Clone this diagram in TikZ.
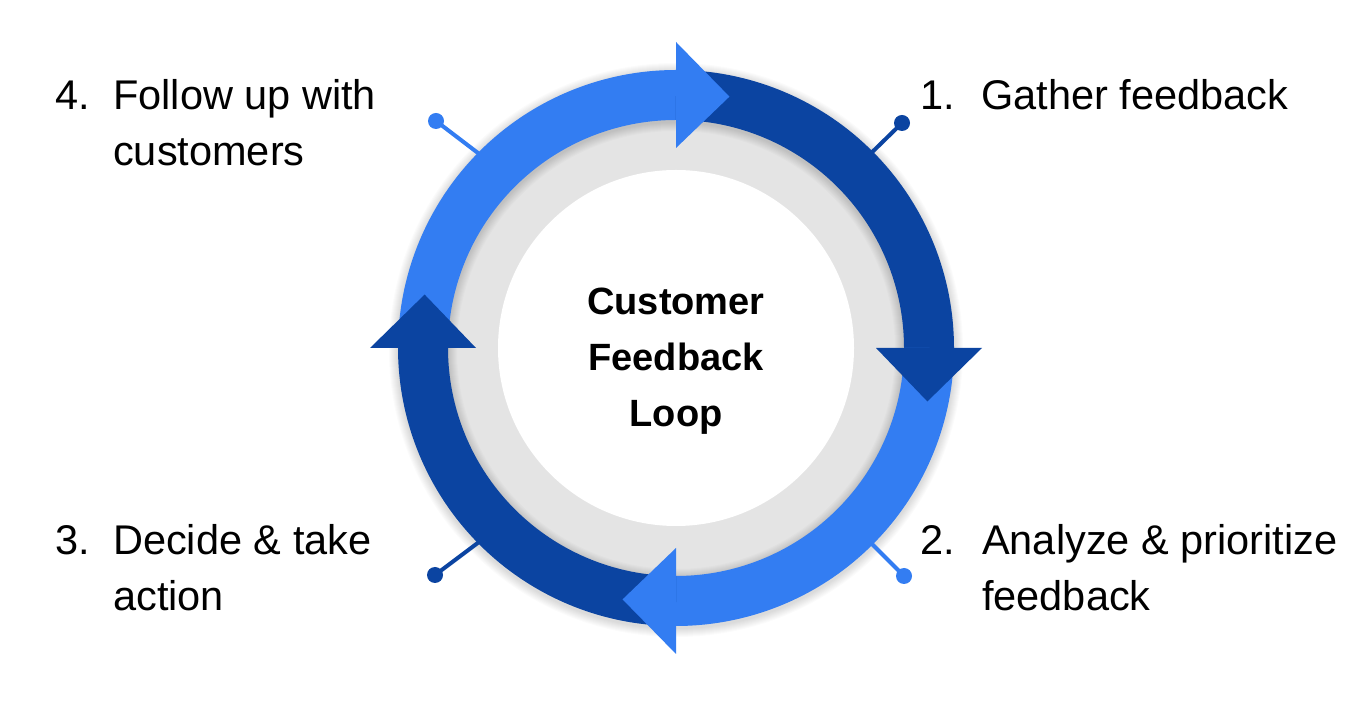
\documentclass[tikz,border=0pt]{standalone}
\usepackage{fontspec}
\setmainfont{Liberation Sans}
\usetikzlibrary{calc}
\definecolor{lightblue}{HTML}{337DF2}
\definecolor{darkblue}{HTML}{0B44A1}
\definecolor{ringgray}{HTML}{E4E4E4}
\begin{document}
\begin{tikzpicture}[x=1pt,y=1pt,
  seg/.style={line width=50pt},
  dot/.style={circle, inner sep=0pt, minimum size=16pt},
  lead/.style={line width=4pt},
  lbl/.style={anchor=base west, inner sep=0pt, font=\fontsize{41.5}{56}\selectfont},
  ctr/.style={anchor=base, inner sep=0pt, font=\fontsize{38}{56}\selectfont\bfseries}]
\useasboundingbox (0,0) rectangle (1370,701);
\fill[white] (0,0) rectangle (1370,701);
\coordinate (C) at (676,353);
% gray ring and white centre
\fill[ringgray] (C) circle[radius=240];
\fill[white] (C) circle[radius=178];
% soft shadow of the ring
\foreach \k in {1,...,9}
  \draw[black, opacity=0.014, line width={(50+2*\k)*1pt}] ($(C)+(0,-2)$) circle[radius=253];
% connectors with dots
\coordinate (a1) at ($(C)+(45:262)$);
\coordinate (a2) at ($(C)+(-45:262)$);
\coordinate (a3) at ($(C)+(-135:262)$);
\coordinate (a4) at ($(C)+(135:262)$);
\node[dot, fill=darkblue] (d1) at (902,578) {};
\node[dot, fill=lightblue] (d2) at (904,125) {};
\node[dot, fill=darkblue] (d3) at (435,126) {};
\node[dot, fill=lightblue] (d4) at (436,580) {};
\draw[lead, darkblue] (a1) -- (d1.center);
\draw[lead, lightblue] (a2) -- (d2.center);
\draw[lead, darkblue] (a3) -- (d3.center);
\draw[lead, lightblue] (a4) -- (d4.center);
% ring bodies (each runs on a little under its own arrow head)
\draw[seg, lightblue] ($(C)+(180:253)$) arc[start angle=180, end angle=88, radius=253];
\draw[seg, darkblue] ($(C)+(90:253)$) arc[start angle=90, end angle=-2, radius=253];
\draw[seg, lightblue] ($(C)+(0:253)$) arc[start angle=0, end angle=-92, radius=253];
\draw[seg, darkblue] ($(C)+(-90:253)$) arc[start angle=-90, end angle=-182, radius=253];
% arrow heads
\fill[lightblue] ($(C)+(90:200)$) -- ($(C)+(90:306)$) -- ($(C)+(78:257)$) -- cycle;
\fill[darkblue] ($(C)+(0:200)$) -- ($(C)+(0:306)$) -- ($(C)+(-12:257)$) -- cycle;
\fill[lightblue] ($(C)+(-90:200)$) -- ($(C)+(-90:306)$) -- ($(C)+(-102:257)$) -- cycle;
\fill[darkblue] ($(C)+(180:200)$) -- ($(C)+(180:306)$) -- ($(C)+(168:257)$) -- cycle;
% centre title
\node[ctr] (t1) at (676,386) {Customer};
\node[ctr] (t2) at (676,330) {Feedback};
\node[ctr] (t3) at (676,274) {Loop};
% labels
\node[lbl] (n1) at (920,591) {1.};
\node[lbl] (l1) at (981,591) {Gather feedback};
\node[lbl] (n2) at (920,146) {2.};
\node[lbl] (l2a) at (982,146) {Analyze \& prioritize};
\node[lbl] (l2b) at (982,90) {feedback};
\node[lbl] (n3) at (55,146) {3.};
\node[lbl] (l3a) at (113,146) {Decide \& take};
\node[lbl] (l3b) at (113,90) {action};
\node[lbl] (n4) at (55,591) {4.};
\node[lbl] (l4a) at (113,591) {Follow up with};
\node[lbl] (l4b) at (113,535) {customers};
\end{tikzpicture}
\end{document}
